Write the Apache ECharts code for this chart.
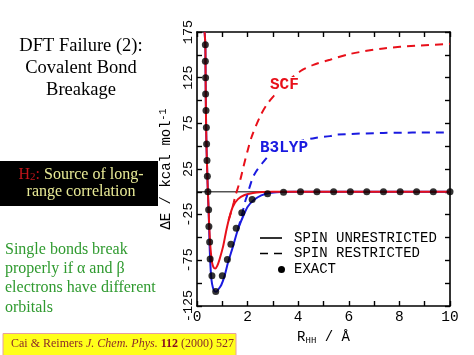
<!DOCTYPE html>
<html>
<head>
<meta charset="utf-8">
<style>html,body{margin:0;padding:0;background:#fff}#c{width:474px;height:355px}</style>
<script src="https://cdn.jsdelivr.net/npm/echarts@6/dist/echarts.min.js"></script>
</head>
<body>
<div id="c"></div>
<script>
// ---- data (R in Å, ΔE in kcal/mol) ----
var xTicks = [0, 2, 4, 6, 8, 10];
var yTicks = [-125, -75, -25, 25, 75, 125, 175];

var scfUnrestricted = [[0.30,175],[0.33,161],[0.34,125],[0.36,72],[0.38,45],[0.41,17],[0.43,0],[0.46,-20],[0.48,-35],[0.51,-52],[0.55,-67],[0.60,-78],[0.66,-83],[0.72,-84],[0.80,-81],[0.89,-74],[1.03,-60],[1.16,-42],[1.29,-27],[1.42,-16],[1.62,-8],[1.88,-3.5],[2.21,-1.2],[2.6,-0.3],[3.0,0],[10,0]];
var scfRestricted = [[1.25,-31],[1.36,-21],[1.45,-12],[1.51,-5],[1.71,13],[1.84,28],[2.0,45],[2.17,61],[2.5,83],[2.76,95.5],[3.02,104.6],[3.5,119],[4.08,132],[4.6,139],[5.26,144.6],[6.05,151],[7.37,157],[8.68,160],[10,162]];
var b3lypUnrestricted = [[0.30,175],[0.33,161],[0.34,125],[0.36,72],[0.38,45],[0.41,17],[0.43,0],[0.46,-22],[0.48,-40],[0.50,-60],[0.53,-80],[0.57,-96],[0.63,-105],[0.70,-109],[0.76,-109.5],[0.84,-107],[0.96,-102],[1.09,-92],[1.22,-78],[1.42,-60],[1.62,-41],[1.82,-27],[2.01,-16],[2.27,-8.5],[2.54,-3.8],[2.87,-1.2],[3.3,-0.3],[3.8,0],[10,0]];
var b3lypRestricted = [[1.62,-41],[1.75,-28],[1.91,-10],[1.97,-5],[2.17,13],[2.3,20.7],[2.63,33],[2.89,40.7],[3.5,50],[4.0,55],[4.67,59],[5.26,61],[5.53,62.6],[7.37,64.5],[10,65]];
var exact = [[0.33,161],[0.33,143],[0.34,125],[0.34,107],[0.355,89],[0.37,70.4],[0.38,52.5],[0.395,34.3],[0.41,17],[0.43,0],[0.46,-19.5],[0.47,-38],[0.50,-55],[0.52,-73.5],[0.59,-92],[0.74,-109],[1.0,-92],[1.2,-74],[1.34,-57.5],[1.55,-40],[1.77,-23],[2.18,-8.5],[2.79,-2],[3.42,-0.5],[4.09,0],[4.74,0],[5.4,0],[6.06,0],[6.71,0],[7.37,0],[8.03,0],[8.68,0],[9.34,0],[10.0,0]];
var zeroLine = [[0,0],[10,0]];
var legendNames = ['SPIN UNRESTRICTED', 'SPIN RESTRICTED', 'EXACT'];

var MONO = '"Liberation Mono", "DejaVu Sans Mono", monospace';
var SERIF = '"Liberation Serif", "DejaVu Serif", serif';
var RED = '#e8101a', BLUE = '#1a1ae0';

var chart = echarts.init(document.getElementById('c'), null, {renderer: 'canvas'});

var axisCommon = {
  axisLine: {show: true, onZero: false, lineStyle: {color: '#000', width: 1.6}},
  axisTick: {show: true, inside: true, length: 5, lineStyle: {color: '#000', width: 1.4}},
  splitLine: {show: false}
};

var option = {
  animation: false,
  backgroundColor: '#fff',
  grid: {left: 197, right: 24, top: 32, bottom: 49, containLabel: false},
  xAxis: [
    Object.assign({
      type: 'value', min: 0, max: 10, interval: 1, position: 'bottom',
      name: '{r|R}{s|HH}{r| / Å}', nameLocation: 'middle', nameGap: 21,
      nameTextStyle: {rich: {r: {fontFamily: MONO, fontSize: 14, color: '#000'}, s: {fontFamily: MONO, fontSize: 9, color: '#000', verticalAlign: 'bottom', padding: [8, 0, 0, 0]}}},
      axisLabel: {show: true, fontFamily: MONO, fontSize: 14.5, color: '#000', margin: 4,
        formatter: function (v) { return xTicks.indexOf(v) >= 0 ? String(v) : ''; }}
    }, axisCommon),
    Object.assign({type: 'value', min: 0, max: 10, interval: 1, position: 'top', axisLabel: {show: false}}, axisCommon)
  ],
  yAxis: [
    Object.assign({
      type: 'value', min: -125, max: 175, interval: 25, position: 'left',
      name: '{r|ΔE / kcal mol}{s|-1}', nameLocation: 'middle', nameGap: 18, nameRotate: 90,
      nameTextStyle: {rich: {r: {fontFamily: MONO, fontSize: 14, color: '#000'}, s: {fontFamily: MONO, fontSize: 10, color: '#000', verticalAlign: 'top', padding: [0, 0, 6, 0]}}},
      axisLabel: {show: true, fontFamily: MONO, fontSize: 13.5, color: '#000', margin: 2, rotate: 90,
        align: 'center', verticalAlign: 'bottom',
        formatter: function (v) { return yTicks.indexOf(v) >= 0 ? String(v) : ''; }}
    }, axisCommon),
    Object.assign({type: 'value', min: -125, max: 175, interval: 25, position: 'right', axisLabel: {show: false}}, axisCommon)
  ],
  series: [
    {type: 'line', data: zeroLine, symbol: 'none', lineStyle: {color: '#000', width: 1}, z: 1, silent: true},
    {type: 'line', name: 'B3LYP unrestricted', data: b3lypUnrestricted, symbol: 'none', smooth: 0.25, lineStyle: {color: BLUE, width: 2}, z: 2},
    {type: 'line', name: 'SCF unrestricted', data: scfUnrestricted, symbol: 'none', smooth: 0.25, lineStyle: {color: RED, width: 2}, z: 3},
    {type: 'line', name: 'B3LYP restricted', data: b3lypRestricted, symbol: 'none', smooth: 0.3, lineStyle: {color: BLUE, width: 2, type: [8, 6]}, z: 3},
    {type: 'line', name: 'SCF restricted', data: scfRestricted, symbol: 'none', smooth: 0.3, lineStyle: {color: RED, width: 2, type: [8, 6]}, z: 3},
    {type: 'scatter', name: 'EXACT', data: exact, symbol: 'circle', symbolSize: 7, itemStyle: {color: '#000'}, z: 5}
  ],
  graphic: [
    // curve labels
    {type: 'text', left: 268, top: 77, z: 10, style: {text: 'SCF', fill: RED, font: 'bold 16px ' + MONO, backgroundColor: '#fff', padding: [0, 2]}},
    {type: 'text', left: 258, top: 140, z: 10, style: {text: 'B3LYP', fill: BLUE, font: 'bold 16px ' + MONO, backgroundColor: '#fff', padding: [0, 2]}},
    // legend
    {type: 'line', shape: {x1: 260, y1: 238, x2: 282, y2: 238}, style: {stroke: '#000', lineWidth: 1.6}, z: 10},
    {type: 'line', shape: {x1: 260, y1: 253.5, x2: 282, y2: 253.5}, style: {stroke: '#000', lineWidth: 1.6, lineDash: [8, 6]}, z: 10},
    {type: 'circle', shape: {cx: 281.5, cy: 269.5, r: 3.5}, style: {fill: '#000'}, z: 10},
    {type: 'text', left: 294, top: 231, z: 10, style: {text: legendNames[0], fill: '#000', font: '14px ' + MONO}},
    {type: 'text', left: 294, top: 246.5, z: 10, style: {text: legendNames[1], fill: '#000', font: '14px ' + MONO}},
    {type: 'text', left: 294, top: 262, z: 10, style: {text: legendNames[2], fill: '#000', font: '14px ' + MONO}},
    // left panel
    {type: 'text', x: 81, y: 35, z: 10, style: {text: 'DFT Failure (2):\nCovalent Bond\nBreakage', fill: '#000', font: '18.5px ' + SERIF, align: 'center', lineHeight: 22}},
    {type: 'rect', shape: {x: 0, y: 161, width: 158, height: 45}, style: {fill: '#000'}, z: 9},
    {type: 'text', x: 81, y: 166, z: 10, style: {
      text: '{r|H}{rs|2}{r|:}{y| Source of long-}\n{y|range correlation}', align: 'center',
      rich: {
        r: {fill: '#c0141a', font: '16px ' + SERIF, lineHeight: 17},
        rs: {fill: '#c0141a', font: '11px ' + SERIF, verticalAlign: 'bottom', lineHeight: 13, padding: [6, 0, 0, 0]},
        y: {fill: '#e8ea96', font: '16px ' + SERIF, lineHeight: 17}
      }}},
    {type: 'text', x: 5, y: 240, z: 10, style: {text: 'Single bonds break\nproperly if α and β\nelectrons have different\norbitals', fill: '#2f9a2f', font: '16px ' + SERIF, lineHeight: 19.3}},
    {type: 'rect', shape: {x: 3, y: 333.5, width: 233, height: 22}, style: {fill: '#ffff1a', stroke: '#e6a0a0', lineWidth: 1}, z: 9},
    {type: 'text', x: 11, y: 337.5, z: 10, style: {
      text: '{n|Cai & Reimers }{i|J. Chem. Phys.}{n| }{b|112}{n| (2000) 527}',
      rich: {
        n: {fill: '#8a2a2a', font: '12px ' + SERIF},
        i: {fill: '#8a2a2a', font: 'italic 12px ' + SERIF},
        b: {fill: '#8a1020', font: 'bold 12px ' + SERIF}
      }}}
  ]
};
chart.setOption(option);
</script>
</body>
</html>
